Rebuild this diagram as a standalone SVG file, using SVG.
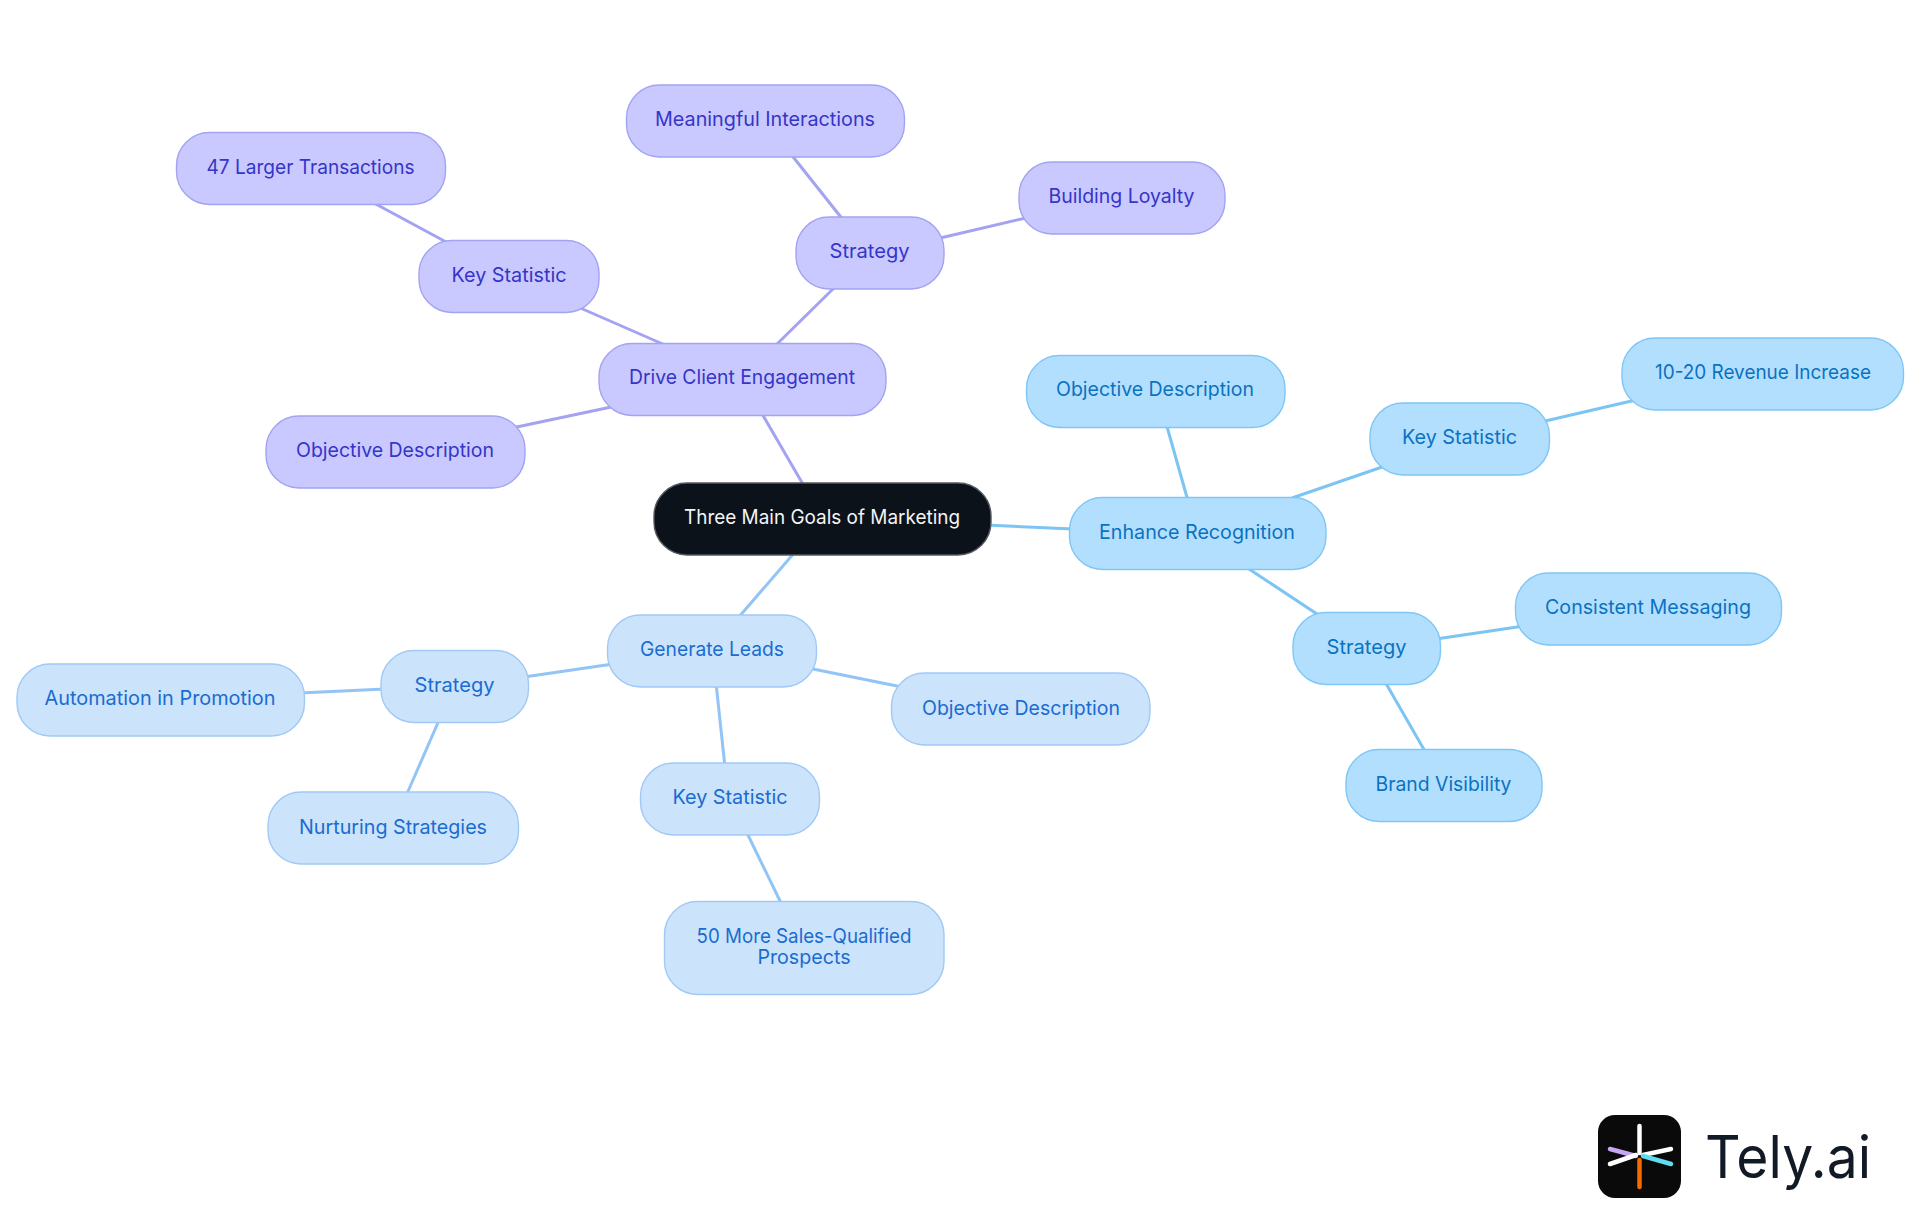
<svg xmlns="http://www.w3.org/2000/svg" width="1920" height="1215" viewBox="0 0 1920 1215">
<style>
rect.n{stroke-width:1.4}
text{font-family:Inter,"Noto Sans","Liberation Sans",sans-serif;font-size:20px;text-anchor:middle}
.p rect{fill:#c9c9ff;stroke:#a3a3f2}.p text{fill:#3535c8}
.b rect{fill:#cce3fc;stroke:#a0c9f6}.b text{fill:#1a6cd0}
.s rect{fill:#b3dfff;stroke:#7fc6f5}.s text{fill:#0b72c0}
#connectors path{fill:none;stroke-width:3}
.cp{stroke:#a3a3f2}.cb{stroke:#92c4f6}.cs{stroke:#7cc4f3}
</style>
<rect width="1920" height="1215" fill="#fff"/>
<g id="connectors">
<path class="cp" d="M761 412L804 486"/>
<path class="cp" d="M775 346L836 286"/>
<path class="cp" d="M844 221L790 153"/>
<path class="cp" d="M936 239L1030 217"/>
<path class="cp" d="M665 345L578 307"/>
<path class="cp" d="M448 243L372 202"/>
<path class="cp" d="M616 406L512 428"/>
<path class="cs" d="M986 525L1073 529"/>
<path class="cs" d="M1188 501L1166 423"/>
<path class="cs" d="M1292 498L1385 466"/>
<path class="cs" d="M1541 422L1640 399"/>
<path class="cs" d="M1246 567L1320 616"/>
<path class="cs" d="M1436 639L1524 626"/>
<path class="cs" d="M1384 680L1426 753"/>
<path class="cb" d="M795 552L738 618"/>
<path class="cb" d="M613 664L524 677"/>
<path class="cb" d="M385 689L300 693"/>
<path class="cb" d="M440 718L406 796"/>
<path class="cb" d="M716 683L725 767"/>
<path class="cb" d="M746 831L782 905"/>
<path class="cb" d="M808 668L902 687"/>
</g>
<g id="root"><rect x="654" y="483" width="337" height="72" rx="33" fill="#0c121a" stroke="#55585d" stroke-width="1.4"/><text x="822" y="524" fill="#f5f5f5" textLength="276" lengthAdjust="spacingAndGlyphs">Three Main Goals of Marketing</text></g>
<g id="drive" class="p"><rect class="n" x="599" y="343.500" width="287" height="72" rx="33"/><text x="742" y="384" textLength="226" lengthAdjust="spacingAndGlyphs">Drive Client Engagement</text></g>
<g id="drive-strategy" class="p"><rect class="n" x="796" y="217" width="148" height="72" rx="33"/><text x="869.500" y="258" textLength="80" lengthAdjust="spacingAndGlyphs">Strategy</text></g>
<g id="meaningful" class="p"><rect class="n" x="626.500" y="85" width="278" height="72" rx="33"/><text x="765" y="126" textLength="220" lengthAdjust="spacingAndGlyphs">Meaningful Interactions</text></g>
<g id="loyalty" class="p"><rect class="n" x="1019" y="162" width="206" height="72" rx="33"/><text x="1121.500" y="203" textLength="146" lengthAdjust="spacingAndGlyphs">Building Loyalty</text></g>
<g id="drive-key" class="p"><rect class="n" x="419" y="240.500" width="180" height="72" rx="33"/><text x="509" y="282" textLength="115" lengthAdjust="spacingAndGlyphs">Key Statistic</text></g>
<g id="larger" class="p"><rect class="n" x="176.500" y="132.500" width="269" height="72" rx="33"/><text x="310.500" y="174" textLength="208" lengthAdjust="spacingAndGlyphs">47 Larger Transactions</text></g>
<g id="drive-objective" class="p"><rect class="n" x="266" y="416" width="259" height="72" rx="33"/><text x="395" y="457" textLength="198" lengthAdjust="spacingAndGlyphs">Objective Description</text></g>
<g id="enhance" class="s"><rect class="n" x="1069.500" y="497.500" width="256.500" height="72" rx="33"/><text x="1197" y="539" textLength="196" lengthAdjust="spacingAndGlyphs">Enhance Recognition</text></g>
<g id="enhance-objective" class="s"><rect class="n" x="1026.500" y="355.500" width="258.500" height="72" rx="33"/><text x="1155" y="396" textLength="198" lengthAdjust="spacingAndGlyphs">Objective Description</text></g>
<g id="enhance-key" class="s"><rect class="n" x="1370" y="403" width="179.500" height="72" rx="33"/><text x="1459.500" y="444" textLength="115" lengthAdjust="spacingAndGlyphs">Key Statistic</text></g>
<g id="revenue" class="s"><rect class="n" x="1622" y="338" width="281.500" height="72" rx="33"/><text x="1763" y="379" textLength="216" lengthAdjust="spacingAndGlyphs">10-20 Revenue Increase</text></g>
<g id="enhance-strategy" class="s"><rect class="n" x="1293" y="612.500" width="147.500" height="72" rx="33"/><text x="1366.500" y="653.500" textLength="80" lengthAdjust="spacingAndGlyphs">Strategy</text></g>
<g id="consistent" class="s"><rect class="n" x="1515.500" y="573" width="266" height="72" rx="33"/><text x="1648" y="614" textLength="206" lengthAdjust="spacingAndGlyphs">Consistent Messaging</text></g>
<g id="brand" class="s"><rect class="n" x="1346" y="749.500" width="196" height="72" rx="33"/><text x="1443.500" y="791" textLength="136" lengthAdjust="spacingAndGlyphs">Brand Visibility</text></g>
<g id="generate" class="b"><rect class="n" x="607.500" y="615" width="209" height="72" rx="33"/><text x="712" y="656" textLength="144" lengthAdjust="spacingAndGlyphs">Generate Leads</text></g>
<g id="generate-strategy" class="b"><rect class="n" x="381" y="650.500" width="147.500" height="72" rx="33"/><text x="454.500" y="692" textLength="80" lengthAdjust="spacingAndGlyphs">Strategy</text></g>
<g id="automation" class="b"><rect class="n" x="17" y="664" width="287.500" height="72" rx="33"/><text x="160" y="705" textLength="231" lengthAdjust="spacingAndGlyphs">Automation in Promotion</text></g>
<g id="nurturing" class="b"><rect class="n" x="268" y="792" width="250.500" height="72" rx="33"/><text x="393" y="834" textLength="188" lengthAdjust="spacingAndGlyphs">Nurturing Strategies</text></g>
<g id="generate-key" class="b"><rect class="n" x="640.500" y="763" width="179" height="72" rx="33"/><text x="730" y="804" textLength="115" lengthAdjust="spacingAndGlyphs">Key Statistic</text></g>
<g id="prospects" class="b"><rect class="n" x="664.500" y="901.500" width="279.500" height="93" rx="33"/><text x="804" y="943" textLength="215" lengthAdjust="spacingAndGlyphs">50 More Sales-Qualified</text><text x="804" y="964" textLength="93" lengthAdjust="spacingAndGlyphs">Prospects</text></g>
<g id="generate-objective" class="b"><rect class="n" x="891.500" y="673" width="258.500" height="72" rx="33"/><text x="1021" y="714.500" textLength="198" lengthAdjust="spacingAndGlyphs">Objective Description</text></g>
<g id="logo">
<rect x="1598" y="1115" width="83" height="83" rx="17" fill="#0a0a0a"/>
<g stroke-width="4.500" stroke-linecap="round" fill="none">
<path d="M1639.500 1126V1153" stroke="#fff"/>
<path d="M1610 1149L1636 1156" stroke="#c4a8f5"/>
<path d="M1610 1164L1636 1155M1643 1155L1671 1149" stroke="#fff"/>
<path d="M1643 1156L1671 1164" stroke="#5fdcf0"/>
<path d="M1639.500 1160V1187" stroke="#f56a00"/>
</g>
<text x="1788" y="1178" style="font-size:59px;fill:#121a26" textLength="166" lengthAdjust="spacingAndGlyphs">Tely.ai</text>
</g>
</svg>
